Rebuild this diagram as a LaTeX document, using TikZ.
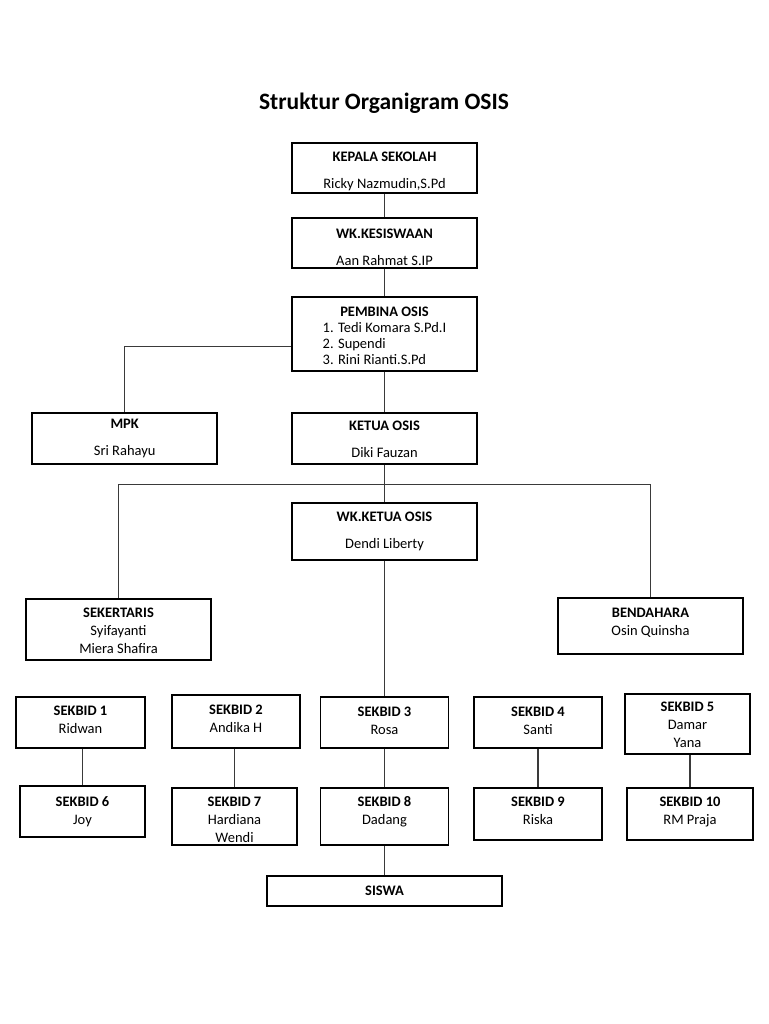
\documentclass[tikz,border=0pt]{standalone}
\usepackage{fontspec}
\setmainfont{Carlito}
\usetikzlibrary{positioning,calc}
\definecolor{ink}{HTML}{000000}
\definecolor{wire}{HTML}{3A3A3A}
% struts that move a box's text down (top) or up (bottom)
\newcommand\padtop[1]{\rule{0pt}{#1}}
\newcommand\padbot[1]{\rule[-#1]{0pt}{#1}}

\begin{document}
\begin{tikzpicture}[
  x=1pt, y=-1pt,
  font=\fontsize{14.5}{18}\selectfont,
  box/.style={draw=ink, line width=1.8pt, align=center, inner sep=2pt,
    minimum width=185pt, minimum height=51pt},
  sekbid/.style={box, minimum width=128pt, minimum height=52pt},
  link/.style={draw=wire, line width=1.4pt}
]
\useasboundingbox (0,0) rectangle (768,1024);

\node[font=\fontsize{23.5}{28}\selectfont\bfseries] (title) at (384,103) {Struktur Organigram OSIS};

\node[box, minimum height=50pt] (kepala) at (384.5,168)
  {\padtop{17.3pt}\textbf{KEPALA SEKOLAH}\\[9pt]Ricky Nazmudin,S.Pd};
\node[box, minimum height=50pt, below=23pt of kepala] (wakasek)
  {\padtop{17.3pt}\textbf{WK.KESISWAAN}\\[9pt]Aan Rahmat S.IP};
\node[box, minimum height=73pt, below=27pt of wakasek] (pembina)
  {\padtop{17.3pt}\textbf{PEMBINA OSIS}\\[-2pt]
   \renewcommand\arraystretch{0.89}%
   \begin{tabular}[t]{@{}l@{}}1. Tedi Komara S.Pd.I\\2. Supendi\\3. Rini Rianti.S.Pd\end{tabular}};
\node[box, below=40pt of pembina] (ketua)
  {\padtop{12.3pt}\textbf{KETUA OSIS}\\[9pt]Diki Fauzan};
\node[box, left=73pt of ketua] (mpk)
  {\textbf{MPK}\\[9pt]Sri Rahayu};
\node[box, minimum height=57pt, below=37pt of ketua] (wkketua)
  {\padtop{10.3pt}\textbf{WK.KETUA OSIS}\\[9pt]Dendi Liberty};

\node[box, minimum height=61pt] (sekertaris) at (118.5,629.5)
  {\padtop{12.3pt}\textbf{SEKERTARIS}\\Syifayanti\\Miera Shafira};
\node[box, minimum height=56pt] (bendahara) at (650.5,626)
  {\textbf{BENDAHARA}\\Osin Quinsha\padbot{8pt}};

% sekbid rows
\node[sekbid, minimum width=129pt, minimum height=51pt] (s1) at (80.5,722.5) {\textbf{SEKBID 1}\\Ridwan\padbot{6pt}};
\node[sekbid, minimum height=53pt] (s2) at (236,721.5) {\textbf{SEKBID 2}\\Andika H\padbot{6pt}};
\node[sekbid, minimum height=51pt] (s3) at (384.5,722.5) {\textbf{SEKBID 3}\\Rosa\padbot{4pt}};
\node[sekbid, minimum height=51pt] (s4) at (538,722.5) {\textbf{SEKBID 4}\\Santi\padbot{4pt}};
\node[sekbid, minimum width=125pt, minimum height=60pt] (s5) at (687.5,724) {\padtop{11.3pt}\textbf{SEKBID 5}\\Damar\\Yana};

\node[sekbid, minimum width=125pt, minimum height=51pt] (s6) at (82.5,811.5) {\textbf{SEKBID 6}\\Joy};
\node[sekbid, minimum width=125pt, minimum height=57pt] (s7) at (234.5,816.5) {\padtop{15.3pt}\textbf{SEKBID 7}\\Hardiana\\Wendi};
\node[sekbid, minimum height=57pt] (s8) at (384.5,816.5) {\textbf{SEKBID 8}\\Dadang\padbot{13pt}};
\node[sekbid] (s9) at (538,814) {\textbf{SEKBID 9}\\Riska\padbot{6pt}};
\node[sekbid, minimum width=126pt] (s10) at (690,814) {\textbf{SEKBID 10}\\RM Praja\padbot{7.5pt}};

\node[box, minimum width=235pt, minimum height=30pt] (siswa) at (384.5,891) {\textbf{SISWA}};

% connectors
\draw[link] (kepala) -- (wakasek);
\draw[link] (wakasek) -- (pembina);
\draw[link] (pembina) -- (ketua);
\draw[link] ([yshift=-12.5pt]pembina.west) -| (mpk.north);
\coordinate (bus) at ($(ketua.south)+(0,20)$);
\draw[link] (ketua) -- (wkketua);
\draw[link] (sekertaris.north) |- (bus) -| (bendahara.north);
\draw[link] (wkketua) -- (s3);
\foreach \a/\b in {s1/s6, s2/s7, s3/s8, s4/s9, s5/s10}
  \draw[link] (\b.north) -- (\b.north |- \a.south);
\draw[link] (s8) -- (siswa);

\end{tikzpicture}
\end{document}
